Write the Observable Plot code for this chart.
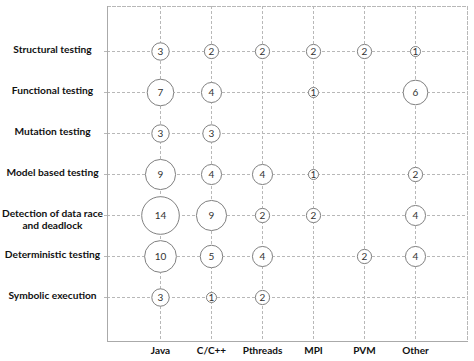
<!DOCTYPE html>
<html>
<head>
<meta charset="utf-8">
<script src="https://cdn.jsdelivr.net/npm/d3@7"></script>
<script src="https://cdn.jsdelivr.net/npm/@observablehq/plot@0.6"></script>
<style>
  html, body { margin: 0; padding: 0; background: #fff; }
  #chart svg { display: block; }
</style>
</head>
<body>
<div id="chart"></div>
<script>
const languages = ["Java", "C/C++", "Pthreads", "MPI", "PVM", "Other"];
const techniques = [
  "Structural testing",
  "Functional testing",
  "Mutation testing",
  "Model based testing",
  "Detection of data race\nand deadlock",
  "Deterministic testing",
  "Symbolic execution"
];
// counts per technique, one entry per language (null = none)
const structural    = [3, 2, 2, 2, 2, 1];
const functional    = [7, 4, null, 1, null, 6];
const mutation      = [3, 3, null, null, null, null];
const modelBased    = [9, 4, 4, 1, null, 2];
const dataRace      = [14, 9, 2, 2, null, 4];
const deterministic = [10, 5, 4, null, 2, 4];
const symbolic      = [3, 1, 2, null, null, null];

const rows = [structural, functional, mutation, modelBased, dataRace, deterministic, symbolic];
const data = [];
rows.forEach((vals, i) => vals.forEach((v, j) => {
  if (v != null) data.push({technique: techniques[i], language: languages[j], count: v});
}));

// label lines, each drawn as its own centred text
const labelLines = [];
techniques.forEach(t => t.split("\n").forEach((line, k) => labelLines.push({technique: t, line, k})));

const gridColor = "#b8b8b8";
const font = "Lato, 'Open Sans', sans-serif";
const labelStyle = {y: "technique", text: "line", frameAnchor: "left", dx: -55, textAnchor: "middle",
  fontWeight: "bold", fontSize: 10.2, fill: "#111"};

const chart = Plot.plot({
  width: 474,
  height: 361,
  marginLeft: 107,
  marginRight: 7,
  marginTop: 6,
  marginBottom: 20,
  style: {fontFamily: font, background: "#fff"},
  x: {type: "point", domain: languages, padding: 1, axis: null},
  y: {type: "point", domain: techniques, padding: 1, axis: null},
  r: {type: "sqrt", domain: [0, 14], range: [0, 18.8]},
  marks: [
    Plot.frame({anchor: "top", stroke: gridColor, strokeDasharray: "3,2"}),
    Plot.frame({anchor: "right", stroke: gridColor, strokeDasharray: "3,2"}),
    Plot.gridX({stroke: gridColor, strokeOpacity: 1, strokeDasharray: "3,2"}),
    Plot.gridY({stroke: gridColor, strokeOpacity: 1, strokeDasharray: "3,2"}),
    Plot.axisY({anchor: "left", label: null, tickSize: 3, tickFormat: () => "", stroke: gridColor}),
    Plot.frame({anchor: "left", stroke: "#aaa"}),
    Plot.frame({anchor: "bottom", stroke: "#aaa"}),
    Plot.dot(data, {x: "language", y: "technique", r: "count", fill: "#fff", stroke: "#808080", strokeWidth: 1}),
    Plot.text(data, {x: "language", y: "technique", text: d => String(d.count), fill: "#333", fontSize: 10}),
    Plot.text(labelLines.filter(d => d.k === 0), {...labelStyle, dy: -1.5}),
    Plot.text(labelLines.filter(d => d.k === 1), {...labelStyle, dy: 10.5}),
    Plot.axisX({anchor: "bottom", label: null, tickSize: 0, tickPadding: 5, fontWeight: "bold", fontSize: 10, fill: "#111"})
  ]
});
document.getElementById("chart").appendChild(chart);
</script>
</body>
</html>
